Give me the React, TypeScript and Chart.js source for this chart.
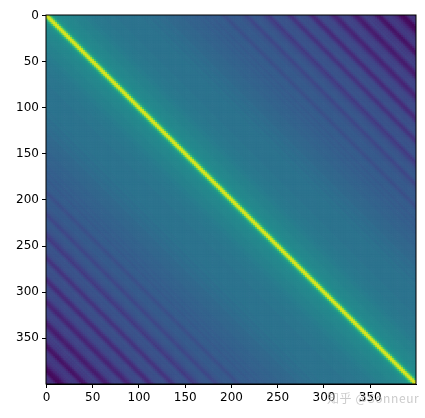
import React, { useEffect, useRef } from "react";
import { Chart, registerables } from "chart.js";

Chart.register(...registerables);

const tickValues = [0, 50, 100, 150, 200, 250, 300, 350];
const matrixSize = 400;
const cellStep = 2;

// value for each distance from the diagonal (one entry per 2 units)
const offDiagonalValues = [
  0.96, 0.9, 0.7, 0.57, 0.51, 0.49, 0.48, 0.47, 0.47, 0.46,
  0.46, 0.46, 0.45, 0.45, 0.44, 0.44, 0.44, 0.43, 0.43, 0.43,
  0.42, 0.42, 0.42, 0.41, 0.41, 0.41, 0.4, 0.4, 0.4, 0.4,
  0.39, 0.39, 0.39, 0.39, 0.39, 0.39, 0.39, 0.38, 0.38, 0.38,
  0.38, 0.38, 0.38, 0.38, 0.38, 0.38, 0.38, 0.38, 0.38, 0.38,
  0.38, 0.37, 0.37, 0.38, 0.37, 0.36, 0.36, 0.37, 0.36, 0.36,
  0.35, 0.35, 0.36, 0.35, 0.34, 0.34, 0.34, 0.34, 0.33, 0.33,
  0.33, 0.33, 0.33, 0.32, 0.32, 0.31, 0.32, 0.32, 0.31, 0.31,
  0.31, 0.3, 0.3, 0.31, 0.3, 0.29, 0.3, 0.3, 0.29, 0.28,
  0.3, 0.29, 0.3, 0.29, 0.28, 0.26, 0.24, 0.26, 0.27, 0.29,
  0.28, 0.28, 0.29, 0.28, 0.27, 0.27, 0.25, 0.23, 0.21, 0.23,
  0.26, 0.27, 0.28, 0.27, 0.27, 0.26, 0.25, 0.23, 0.2, 0.19,
  0.17, 0.2, 0.23, 0.26, 0.26, 0.25, 0.26, 0.25, 0.24, 0.23,
  0.19, 0.16, 0.15, 0.18, 0.21, 0.24, 0.25, 0.24, 0.24, 0.24,
  0.23, 0.2, 0.16, 0.13, 0.12, 0.15, 0.19, 0.22, 0.23, 0.22,
  0.23, 0.21, 0.2, 0.17, 0.14, 0.11, 0.1, 0.13, 0.17, 0.2,
  0.21, 0.2, 0.21, 0.19, 0.18, 0.14, 0.1, 0.08, 0.08, 0.11,
  0.15, 0.18, 0.2, 0.18, 0.19, 0.17, 0.17, 0.13, 0.08, 0.06,
  0.05, 0.09, 0.14, 0.17, 0.17, 0.18, 0.16, 0.16, 0.13, 0.11,
  0.07, 0.04, 0.03, 0.02, 0.06, 0.11, 0.15, 0.14, 0.16, 0.11,
];

const viridisStops = [
  [68, 1, 84], [72, 36, 117], [65, 68, 135], [53, 95, 141], [42, 120, 142],
  [33, 145, 140], [34, 168, 132], [68, 191, 112], [122, 209, 81], [189, 223, 38], [253, 231, 37],
];

function colourFor(v: number): string {
  const p = Math.max(0, Math.min(1, v)) * (viridisStops.length - 1);
  const a = Math.floor(p);
  const b = Math.min(a + 1, viridisStops.length - 1);
  const t = p - a;
  const c = viridisStops[a].map((n, k) => Math.round(n + (viridisStops[b][k] - n) * t));
  return `rgb(${c[0]},${c[1]},${c[2]})`;
}

const frame = {
  id: "frame",
  afterDatasetsDraw(chart: any) {
    const { ctx, chartArea: a } = chart;
    ctx.save();
    ctx.strokeStyle = "#000";
    ctx.lineWidth = 1;
    ctx.strokeRect(a.left, a.top, a.right - a.left, a.bottom - a.top);
    ctx.restore();
  },
};

export default function App() {
  const ref = useRef<HTMLCanvasElement>(null);
  useEffect(() => {
    const points: { x: number; y: number }[] = [];
    const colours: string[] = [];
    const count = matrixSize / cellStep;
    for (let r = 0; r < count; r++) {
      for (let c = 0; c < count; c++) {
        points.push({ x: c * cellStep + 0.5, y: r * cellStep + 0.5 });
        colours.push(colourFor(offDiagonalValues[Math.abs(r - c)]));
      }
    }
    const font = { family: "'DejaVu Sans'", size: 12 };
    const axis = (reverse: boolean, fit: (s: any) => void) => ({
      type: "linear" as const,
      min: -0.5,
      max: 399.5,
      reverse,
      afterBuildTicks: (s: any) => {
        s.ticks = tickValues.map((value) => ({ value }));
      },
      afterFit: fit,
      border: { display: true, color: "#000", width: 1 },
      grid: { display: true, drawOnChartArea: false, drawTicks: true, tickLength: 4, color: "#000" },
      ticks: { color: "#000", font, padding: 3, autoSkip: false, maxRotation: 0, callback: (v: any) => String(v) },
    });
    const layer = (radius: number, order: number) =>
      ({
        data: points,
        pointStyle: "rect",
        pointRadius: radius,
        pointBorderWidth: 0,
        pointBackgroundColor: colours,
        clip: 0,
        order,
      } as any);
    const chart = new Chart(ref.current!, {
      type: "scatter",
      data: { datasets: [layer(1.31, 0), layer(1.7, 1)] },
      options: {
        animation: false,
        responsive: false,
        layout: { padding: { top: 15, right: 9, left: 0, bottom: 0 } },
        plugins: { legend: { display: false }, tooltip: { enabled: false } },
        events: [],
        scales: {
          x: axis(false, (s) => { s.height = 34; }),
          y: axis(true, (s) => { s.width = 46; }),
        },
      } as any,
      plugins: [frame],
    });
    return () => chart.destroy();
  }, []);
  return (
    <div style={{ position: "absolute", left: 0, top: 0, width: 425, height: 418, background: "#fff" }}>
      <canvas ref={ref} width={425} height={418} style={{ display: "block" }} />
      <span
        style={{
          position: "absolute",
          left: 327,
          top: 390,
          fontFamily: "'Noto Sans CJK SC', 'Noto Sans'",
          fontSize: 12,
          lineHeight: "16px",
          letterSpacing: 0.6,
          color: "rgba(190,190,190,0.8)",
          whiteSpace: "nowrap",
        }}
      >
        知乎 @Sonneur
      </span>
    </div>
  );
}
